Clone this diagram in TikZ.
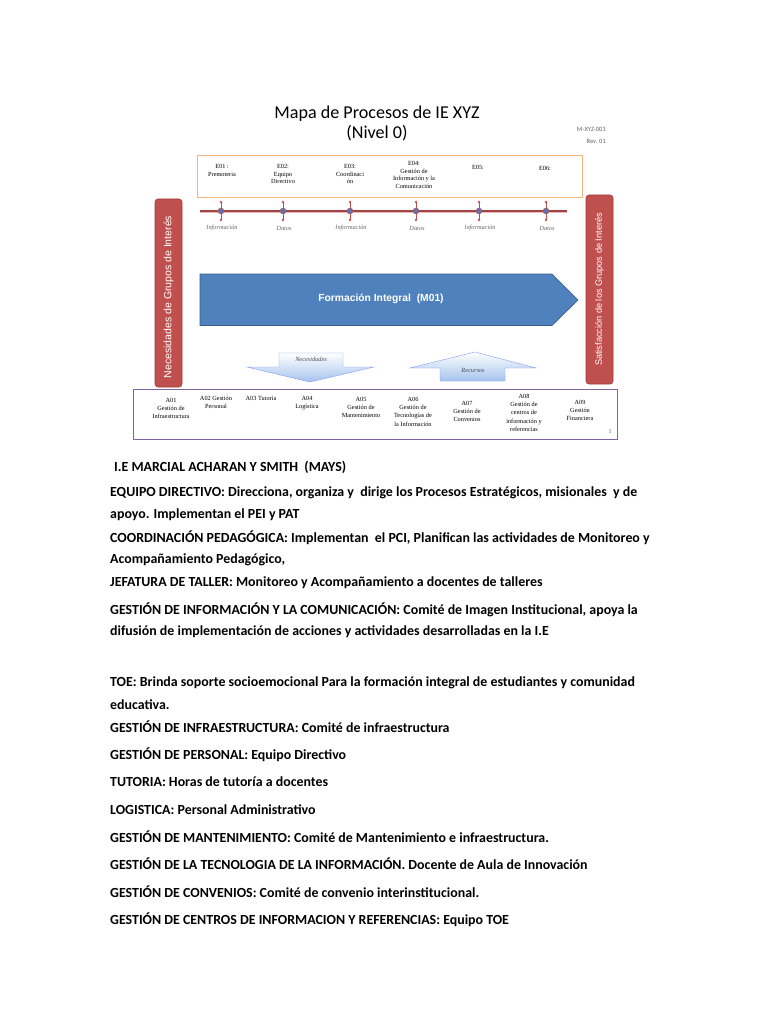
\documentclass[tikz,border=0pt]{standalone}
\usepackage{fontspec}
\setmainfont{Carlito}
\newfontfamily\serifdiag{Liberation Serif}
\newfontfamily\sansdiag{Liberation Sans}
\usetikzlibrary{arrows.meta}
\definecolor{orangeb}{RGB}{247,182,120}
\definecolor{redl}{RGB}{192,80,77}
\definecolor{redd}{RGB}{160,60,58}
\definecolor{dotc}{RGB}{95,115,170}
\definecolor{bluef}{RGB}{79,129,189}
\definecolor{blued}{RGB}{56,93,138}
\definecolor{lightb}{RGB}{165,195,238}
\definecolor{purp}{RGB}{128,100,162}
\definecolor{grayt}{RGB}{100,100,100}
\tikzset{
  etext/.style={font=\serifdiag\fontsize{6.3}{7.8}\selectfont, align=center, inner sep=0pt, anchor=north},
  atext/.style={font=\serifdiag\fontsize{6.3}{8.3}\selectfont, align=center, inner sep=0pt, anchor=north},
  itext/.style={font=\serifdiag\itshape\fontsize{6.3}{7.5}\selectfont, text=grayt, inner sep=0pt},
  body/.style={font=\bfseries\fontsize{13.9}{16}\selectfont, anchor=west, inner sep=0pt},
  dotn/.style={circle, fill=dotc, draw=redl, line width=0.4pt, minimum size=6pt, inner sep=0pt},
  darr/.style={redl, line width=0.8pt, {Latex[length=3pt,width=3pt]}-{Latex[length=3pt,width=3pt]}},
  sidebox/.style={draw=redd, fill=redl, rounded corners=3pt, line width=0.6pt},
  sidetext/.style={font=\sansdiag\fontsize{9.5}{10}\selectfont, text=white, rotate=90, inner sep=0pt},
  lightarr/.style={draw=lightb!80!blue, line width=0.4pt, top color=white, bottom color=lightb},
}
\begin{document}
\begin{tikzpicture}[x=1pt,y=-1pt]
\useasboundingbox[fill=white] (0,0) rectangle (768,1024);

% title
\node[font=\fontsize{18.1}{20}\selectfont, inner sep=0pt] (t1) at (377,114) {Mapa de Procesos de IE XYZ};
\node[font=\fontsize{18.1}{20}\selectfont, inner sep=0pt] (t2) at (377,133) {(Nivel 0)};
\node[font=\fontsize{6.5}{8}\selectfont, text=grayt, anchor=east, inner sep=0pt] (code) at (606,129) {M-XYZ-001};
\node[font=\fontsize{6.5}{8}\selectfont, text=grayt, anchor=east, inner sep=0pt] (rev) at (606,141) {Rev. 01};

% orange box
\node[draw=orangeb, line width=1pt, minimum width=385pt, minimum height=42pt, inner sep=0pt] (obox) at (389.5,177) {};
\node[etext] (e1) at (222,164) {E01 :\\Premoteria};
\node[etext] (e2) at (283,164) {E02:\\Equipo\\Directivo};
\node[etext] (e3) at (350,164) {E03:\\Coordinaci\\ón};
\node[etext] (e4) at (414,161) {E04:\\Gestión de\\Información y la\\Comunicación};
\node[etext] (e5) at (478,165) {E05:};
\node[etext] (e6) at (545,166) {E06:};

% red line and dots
\coordinate (lineL) at (200,211);
\coordinate (lineR) at (567,211);
\draw[redl!85!black, line width=1.6pt] (lineL) -- (lineR);
\draw[redl!40, line width=0.8pt] ([yshift=-1.6pt]lineL) -- ([yshift=-1.6pt]lineR);
\foreach \i/\x/\lab in {1/221/Información,2/283/Datos,3/350/Información,4/416/Datos,5/479/Información,6/546/Datos}{
  \coordinate (up\i) at (\x,200);
  \coordinate (dn\i) at (\x,222);
  \draw[darr] (up\i) -- (dn\i);
  \node[dotn] (d\i) at (\x,211) {};
  \node[itext] (l\i) at (\x+1,228) {\lab};
}

% side boxes
\node[sidebox, minimum width=27pt, minimum height=188pt] (lbox) at (168.5,293) {};
\node[sidetext, font=\sansdiag\fontsize{10.5}{11}\selectfont] (ltext) at (168.5,297) {Necesidades de Grupos de Interés};
\node[sidebox, minimum width=27pt, minimum height=189pt] (rbox) at (599.5,289.5) {};
\node[sidetext, font=\sansdiag\fontsize{9.2}{11}\selectfont] (rtext) at (599.5,289.5) {Satisfacción de los Grupos de Interés};

% main blue arrow
\draw[fill=bluef, draw=blued, line width=0.6pt] (200,274) -- (552,274) -- (578,300) -- (552,325.5) -- (200,325.5) -- cycle;
\node[font=\sansdiag\bfseries\fontsize{10.3}{12}\selectfont, text=white, inner sep=0pt] (m01) at (381,299) {Formación Integral\ \ (M01)};

% down arrow Necesidades
\draw[lightarr] (279,353) -- (343,353) -- (343,367) -- (374,367) -- (310,382) -- (247,367) -- (279,367) -- cycle;
\node[itext, text=black!70] (nec) at (311,359) {Necesidades};
% up arrow Recursos
\draw[lightarr] (475,352) -- (536,368) -- (505,368) -- (505,381) -- (440,381) -- (440,368) -- (410,368) -- cycle;
\node[itext, text=black!70] (rec) at (473,370) {Recursos};

% purple box
\node[draw=purp, line width=1pt, minimum width=484pt, minimum height=50pt, inner sep=0pt] (pbox) at (375,414) {};
\node[atext] (a1) at (171,398) {A01\\Gestión de\\Infraestructura};
\node[atext] (a2) at (216,396) {A02 Gestión\\Personal};
\node[atext] (a3) at (261,396) {A03 Tutoría};
\node[atext] (a4) at (307,396) {A04\\Logística};
\node[atext] (a5) at (361,397) {A05\\Gestión de\\Mantenimiento};
\node[atext] (a6) at (413,397) {A06\\Gestión de\\Tecnologías de\\la Información};
\node[atext] (a7) at (467,401) {A07\\Gestión de\\Convenios};
\node[atext] (a8) at (524,394) {A08\\Gestión de\\centros de\\información y\\referencias};
\node[atext] (a9) at (580,400) {A09\\Gestión\\Financiera};
\node[font=\serifdiag\fontsize{6}{7}\selectfont, text=grayt, inner sep=0pt] (pg) at (610,432) {1};

% body text
\node[body] (b1) at (114,467) {I.E MARCIAL ACHARAN Y SMITH\ \ (MAYS)};
\node[body] (b2) at (110,493) {EQUIPO DIRECTIVO: Direcciona, organiza y\ \ dirige los Procesos Estratégicos, misionales\ \ y de};
\node[body] (b3) at (110,515) {apoyo. Implementan el PEI y PAT};
\node[body] (b4) at (110,538) {COORDINACIÓN PEDAGÓGICA: Implementan\ \ el PCI, Planifican las actividades de Monitoreo y};
\node[body] (b5) at (110,560) {Acompañamiento Pedagógico,};
\node[body] (b6) at (110,583) {JEFATURA DE TALLER: Monitoreo y Acompañamiento a docentes de talleres};
\node[body] (b7) at (110,610) {GESTIÓN DE INFORMACIÓN Y LA COMUNICACIÓN: Comité de Imagen Institucional, apoya la};
\node[body] (b8) at (110,632) {difusión de implementación de acciones y actividades desarrolladas en la I.E};
\node[body] (b9) at (110,683) {TOE: Brinda soporte socioemocional Para la formación integral de estudiantes y comunidad};
\node[body] (b10) at (110,705) {educativa.};
\node[body] (b11) at (110,727) {GESTIÓN DE INFRAESTRUCTURA: Comité de infraestructura};
\node[body] (b12) at (110,755) {GESTIÓN DE PERSONAL: Equipo Directivo};
\node[body] (b13) at (110,782) {TUTORIA: Horas de tutoría a docentes};
\node[body] (b14) at (110,810) {LOGISTICA: Personal Administrativo};
\node[body] (b15) at (110,837) {GESTIÓN DE MANTENIMIENTO: Comité de Mantenimiento e infraestructura.};
\node[body] (b16) at (110,864) {GESTIÓN DE LA TECNOLOGIA DE LA INFORMACIÓN. Docente de Aula de Innovación};
\node[body] (b17) at (110,892) {GESTIÓN DE CONVENIOS: Comité de convenio interinstitucional.};
\node[body] (b18) at (110,920) {GESTIÓN DE CENTROS DE INFORMACION Y REFERENCIAS: Equipo TOE};
\end{tikzpicture}
\end{document}
